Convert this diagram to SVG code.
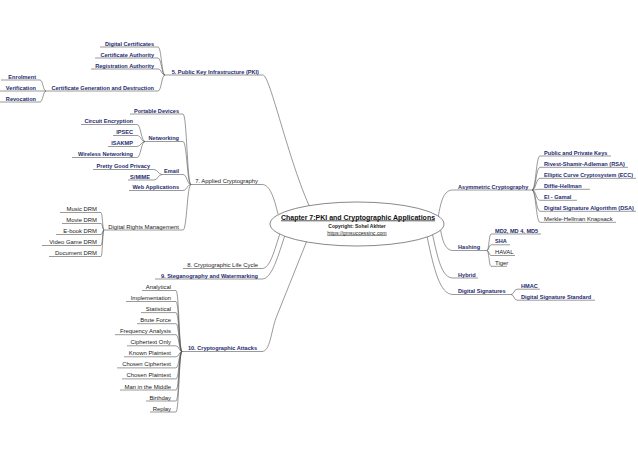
<svg xmlns="http://www.w3.org/2000/svg" width="638" height="451" viewBox="0 0 638 451">
<style>
text{font-family:"Liberation Sans",Arial,sans-serif;font-size:5.9px;fill:#222}
.b{font-weight:bold;fill:#1e2b6e;font-size:5.6px}
.e{text-anchor:end}
.ul,.c{stroke:#555;stroke-width:0.6;fill:none}
.hub{fill:#fff;stroke:#555;stroke-width:0.7}
</style>
<rect width="638" height="451" fill="#fff"/>
<g id="connectors" class="c">
<path d="M263,75 C270,75 288,160 311,210"/>
<path d="M262,184.5 C270,184.5 274,198 278,214"/>
<path d="M262,268.5 C270,268.5 274,252 281,230"/>
<path d="M262,279 C272,279 278,256 286,232"/>
<path d="M262,351.5 C270,351.5 271,332 276,318 L308,238"/>
<path d="M438,218 C441,200 444,190 453,190"/>
<path d="M440,226 C442,240 445,250.5 453,250.5"/>
<path d="M432,232 C438,260 442,278 453,278"/>
<path d="M427,236 C434,270 440,294.5 453,294.5"/>
<path d="M158,47 C161.5,47 161.5,75 165,75"/>
<path d="M158,58 C161.5,58 161.5,75 165,75"/>
<path d="M158,69 C161.5,69 161.5,75 165,75"/>
<path d="M158,91 C161.5,91 161.5,75 165,75"/>
<path d="M40,80 C43,80 43,91 46,91"/>
<path d="M40,91 H46"/>
<path d="M40,102 C43,102 43,91 46,91"/>
<path d="M183,114 C187,114 187,184.5 191,184.5"/>
<path d="M183,141.5 C187,141.5 187,184.5 191,184.5"/>
<path d="M183,174.5 C187,174.5 187,184.5 191,184.5"/>
<path d="M183,190.5 C187,190.5 187,184.5 191,184.5"/>
<path d="M183,230 C187,230 187,184.5 191,184.5"/>
<path d="M137,124.5 C141,124.5 141,141.5 145,141.5"/>
<path d="M137,135.5 C141,135.5 141,141.5 145,141.5"/>
<path d="M137,146.5 C141,146.5 141,141.5 145,141.5"/>
<path d="M137,157.5 C141,157.5 141,141.5 145,141.5"/>
<path d="M154,169.5 C158,169.5 158,174.5 162,174.5"/>
<path d="M154,180 C158,180 158,174.5 162,174.5"/>
<path d="M101,212.5 C102.5,212.5 102.5,230 104,230"/>
<path d="M101,223.5 C102.5,223.5 102.5,230 104,230"/>
<path d="M101,234.5 C102.5,234.5 102.5,230 104,230"/>
<path d="M101,245.5 C102.5,245.5 102.5,230 104,230"/>
<path d="M101,256.5 C102.5,256.5 102.5,230 104,230"/>
<path d="M176,290.5 C179,290.5 179,351.5 182,351.5"/>
<path d="M176,301.5 C179,301.5 179,351.5 182,351.5"/>
<path d="M176,312.6 C179,312.6 179,351.5 182,351.5"/>
<path d="M176,323.7 C179,323.7 179,351.5 182,351.5"/>
<path d="M176,334.7 C179,334.7 179,351.5 182,351.5"/>
<path d="M176,345.8 C179,345.8 179,351.5 182,351.5"/>
<path d="M176,356.8 C179,356.8 179,351.5 182,351.5"/>
<path d="M176,367.9 C179,367.9 179,351.5 182,351.5"/>
<path d="M176,378.9 C179,378.9 179,351.5 182,351.5"/>
<path d="M176,390 C179,390 179,351.5 182,351.5"/>
<path d="M176,401 C179,401 179,351.5 182,351.5"/>
<path d="M176,412 C179,412 179,351.5 182,351.5"/>
<path d="M532,190 C536,190 536,156 540,156"/>
<path d="M532,190 C536,190 536,167.3 540,167.3"/>
<path d="M532,190 C536,190 536,178.3 540,178.3"/>
<path d="M532,190 C536,190 536,189.3 540,189.3"/>
<path d="M532,190 C536,190 536,200.3 540,200.3"/>
<path d="M532,190 C536,190 536,211.3 540,211.3"/>
<path d="M532,190 C536,190 536,222.3 540,222.3"/>
<path d="M487,250.5 C489,250.5 489,234 491,234"/>
<path d="M487,250.5 C489,250.5 489,244.8 491,244.8"/>
<path d="M487,250.5 C489,250.5 489,255.5 491,255.5"/>
<path d="M487,250.5 C489,250.5 489,266.3 491,266.3"/>
<path d="M511,294.5 C514,294.5 514,289.2 517,289.2"/>
<path d="M511,294.5 C514,294.5 514,300.2 517,300.2"/>
</g>
<g id="hub">
<ellipse class="hub" cx="357" cy="224" rx="87" ry="22"/>
<text x="358" y="219.5" text-anchor="middle" style="font-size:7px;font-weight:bold;fill:#111;text-decoration:underline">Chapter 7:PKI and Cryptographic Applications</text>
<text x="357" y="227.5" text-anchor="middle" style="font-size:5px;font-weight:bold;fill:#222">Copyright: Sohel Akhter</text>
<text x="357" y="234.5" text-anchor="middle" style="font-size:5.2px;fill:#222;text-decoration:underline">https://gmsuccessinc.com</text>
</g>
<g id="pki"><text class="b e" x="259" y="73.5">5. Public Key Infrastructure (PKI)</text><path class="ul" d="M165,75 H263"/></g>
<g id="pki-dc"><text class="b e" x="154" y="45.5">Digital Certificates</text><path class="ul" d="M100,47 H158"/></g>
<g id="pki-ca"><text class="b e" x="154" y="56.5">Certificate Authority</text><path class="ul" d="M95,58 H158"/></g>
<g id="pki-ra"><text class="b e" x="154" y="67.5">Registration Authority</text><path class="ul" d="M91,69 H158"/></g>
<g id="pki-cgd"><text class="b e" x="154" y="89.5">Certificate Generation and Destruction</text><path class="ul" d="M46,91 H158"/></g>
<g id="cgd-enr"><text class="b e" x="36" y="78.5">Enrolment</text><path class="ul" d="M1,80 H40"/></g>
<g id="cgd-ver"><text class="b e" x="36" y="89.5">Verification</text><path class="ul" d="M0,91 H40"/></g>
<g id="cgd-rev"><text class="b e" x="36" y="100.5">Revocation</text><path class="ul" d="M0,102 H40"/></g>
<g id="ac"><text class="e" x="258" y="183">7. Applied Cryptography</text><path class="ul" d="M191,184.5 H262"/></g>
<g id="ac-pd"><text class="b e" x="179" y="112.5">Portable Devices</text><path class="ul" d="M130,114 H183"/></g>
<g id="ac-net"><text class="b e" x="179" y="140">Networking</text><path class="ul" d="M145,141.5 H183"/></g>
<g id="net-ce"><text class="b e" x="133" y="123">Circuit Encryption</text><path class="ul" d="M81,124.5 H137"/></g>
<g id="net-ipsec"><text class="b e" x="133" y="134">IPSEC</text><path class="ul" d="M113,135.5 H137"/></g>
<g id="net-isakmp"><text class="b e" x="133" y="145">ISAKMP</text><path class="ul" d="M108,146.5 H137"/></g>
<g id="net-wn"><text class="b e" x="133" y="156">Wireless Networking</text><path class="ul" d="M72,157.5 H137"/></g>
<g id="ac-email"><text class="b e" x="179" y="173">Email</text><path class="ul" d="M162,174.5 H183"/></g>
<g id="em-pgp"><text class="b e" x="150" y="168">Pretty Good Privacy</text><path class="ul" d="M93,169.5 H154"/></g>
<g id="em-smime"><text class="b e" x="150" y="178.5">S/MIME</text><path class="ul" d="M128,180 H154"/></g>
<g id="ac-web"><text class="b e" x="179" y="189">Web Applications</text><path class="ul" d="M129,190.5 H183"/></g>
<g id="ac-drm"><text class="e" x="179" y="228.5">Digital Rights Management</text><path class="ul" d="M104,230 H183"/></g>
<g id="drm-music"><text class="e" x="97" y="211">Music DRM</text><path class="ul" d="M60,212.5 H101"/></g>
<g id="drm-movie"><text class="e" x="97" y="222">Movie DRM</text><path class="ul" d="M62,223.5 H101"/></g>
<g id="drm-ebook"><text class="e" x="97" y="233">E-book DRM</text><path class="ul" d="M56,234.5 H101"/></g>
<g id="drm-video"><text class="e" x="97" y="244">Video Game DRM</text><path class="ul" d="M42,245.5 H101"/></g>
<g id="drm-doc"><text class="e" x="97" y="255">Document DRM</text><path class="ul" d="M49,256.5 H101"/></g>
<g id="lifecycle"><text class="e" x="258" y="267">8. Cryptographic Life Cycle</text><path class="ul" d="M183,268.5 H262"/></g>
<g id="stego"><text class="b e" x="258" y="277.5">9. Steganography and Watermarking</text><path class="ul" d="M155,279 H262"/></g>
<g id="attacks"><text class="b e" x="257" y="350">10. Cryptographic Attacks</text><path class="ul" d="M182,351.5 H262"/></g>
<g id="at-1"><text class="e" x="171" y="289">Analytical</text><path class="ul" d="M142,290.5 H176"/></g>
<g id="at-2"><text class="e" x="171" y="300">Implementation</text><path class="ul" d="M126,301.5 H176"/></g>
<g id="at-3"><text class="e" x="171" y="311.1">Statistical</text><path class="ul" d="M141,312.6 H176"/></g>
<g id="at-4"><text class="e" x="171" y="322.2">Brute Force</text><path class="ul" d="M137,323.7 H176"/></g>
<g id="at-5"><text class="e" x="171" y="333.2">Frequency Analysis</text><path class="ul" d="M115,334.7 H176"/></g>
<g id="at-6"><text class="e" x="171" y="344.3">Ciphertext Only</text><path class="ul" d="M127,345.8 H176"/></g>
<g id="at-7"><text class="e" x="171" y="355.3">Known Plaintext</text><path class="ul" d="M124,356.8 H176"/></g>
<g id="at-8"><text class="e" x="171" y="366.4">Chosen Ciphertext</text><path class="ul" d="M117,367.9 H176"/></g>
<g id="at-9"><text class="e" x="171" y="377.4">Chosen Plaintext</text><path class="ul" d="M122,378.9 H176"/></g>
<g id="at-10"><text class="e" x="171" y="388.5">Man in the Middle</text><path class="ul" d="M120,390 H176"/></g>
<g id="at-11"><text class="e" x="171" y="399.5">Birthday</text><path class="ul" d="M146,401 H176"/></g>
<g id="at-12"><text class="e" x="171" y="410.5">Replay</text><path class="ul" d="M150,412 H176"/></g>
<g id="asym"><text class="b" x="458" y="188.5">Asymmetric Cryptography</text><path class="ul" d="M453,190 H532"/></g>
<g id="as-1"><text class="b" x="544" y="154.5">Public and Private Keys</text><path class="ul" d="M540,156 H611"/></g>
<g id="as-2"><text class="b" x="544" y="165.8" textLength="81" lengthAdjust="spacingAndGlyphs">Rivest-Shamir-Adleman (RSA)</text><path class="ul" d="M540,167.3 H628"/></g>
<g id="as-3"><text class="b" x="544" y="176.8" textLength="89" lengthAdjust="spacingAndGlyphs">Elliptic Curve Cryptosystem (ECC)</text><path class="ul" d="M540,178.3 H636"/></g>
<g id="as-4"><text class="b" x="544" y="187.8">Diffie-Hellman</text><path class="ul" d="M540,189.3 H590"/></g>
<g id="as-5"><text class="b" x="544" y="198.8">El - Gamal</text><path class="ul" d="M540,200.3 H577"/></g>
<g id="as-6"><text class="b" x="544" y="209.8" textLength="90" lengthAdjust="spacingAndGlyphs">Digital Signature Algorithm (DSA)</text><path class="ul" d="M540,211.3 H636"/></g>
<g id="as-7"><text x="544" y="220.8">Merkle-Hellman Knapsack</text><path class="ul" d="M540,222.3 H616"/></g>
<g id="hash"><text class="b" x="458" y="249">Hashing</text><path class="ul" d="M453,250.5 H487"/></g>
<g id="h-md"><text class="b" x="495" y="232.5">MD2, MD 4, MD5</text><path class="ul" d="M491,234 H541"/></g>
<g id="h-sha"><text class="b" x="495" y="243.3">SHA</text><path class="ul" d="M491,244.8 H510"/></g>
<g id="h-haval"><text x="495" y="254">HAVAL</text><path class="ul" d="M491,255.5 H515"/></g>
<g id="h-tiger"><text x="495" y="264.8">Tiger</text><path class="ul" d="M491,266.3 H507"/></g>
<g id="hybrid"><text class="b" x="458" y="276.5">Hybrid</text><path class="ul" d="M453,278 H478"/></g>
<g id="dsig"><text class="b" x="458" y="293">Digital Signatures</text><path class="ul" d="M453,294.5 H511"/></g>
<g id="ds-hmac"><text class="b" x="521" y="287.7">HMAC</text><path class="ul" d="M517,289.2 H540"/></g>
<g id="ds-dss"><text class="b" x="521" y="298.7">Digital Signature Standard</text><path class="ul" d="M517,300.2 H595"/></g>
</svg>
